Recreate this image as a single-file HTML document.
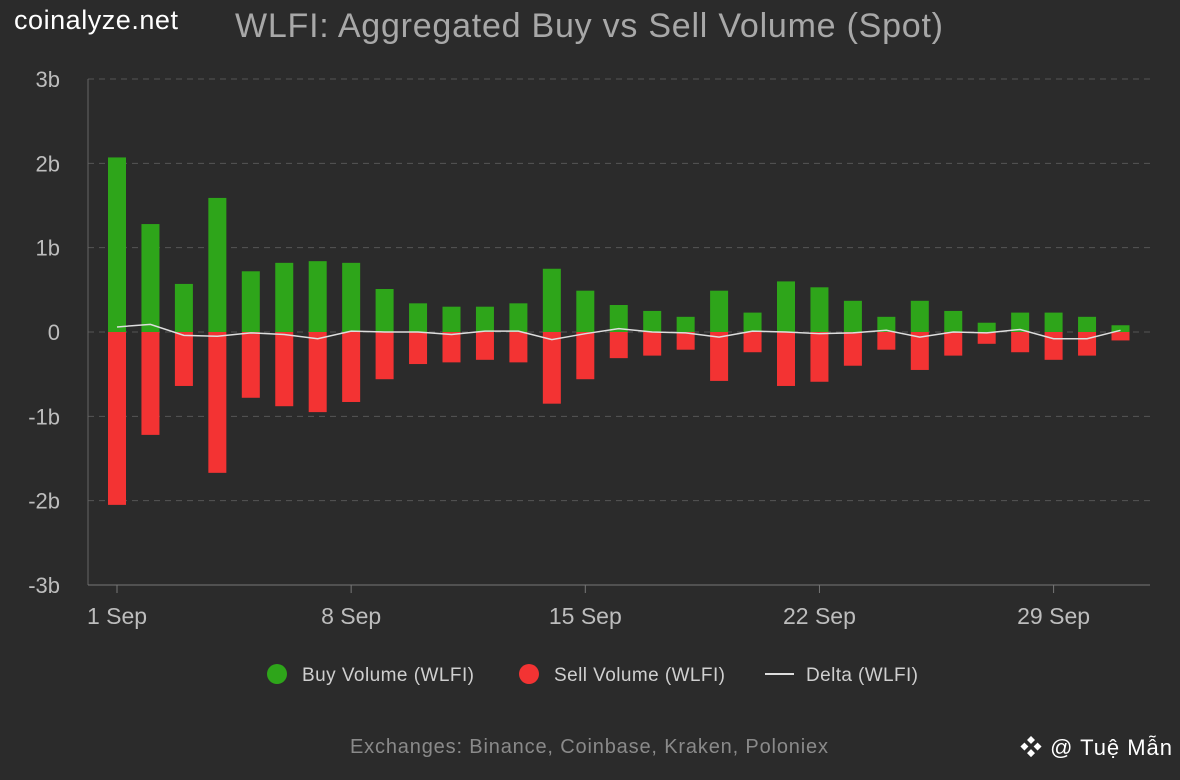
<!DOCTYPE html>
<html><head><meta charset="utf-8">
<style>
html,body{margin:0;padding:0;background:#2b2b2b;}
body{width:1180px;height:775px;overflow:hidden;font-family:"Liberation Sans","Noto Sans CJK SC",sans-serif;}
</style></head>
<body>
<svg width="1180" height="775" xmlns="http://www.w3.org/2000/svg">
<rect width="1180" height="775" fill="#2b2b2b"/>
<text x="14" y="29" font-size="27" fill="#ffffff" textLength="164">coinalyze.net</text>
<text x="589" y="37" font-size="34" fill="#a8a8a8" text-anchor="middle" textLength="708">WLFI: Aggregated Buy vs Sell Volume (Spot)</text>
<g id="grid"></g>
<g id="yticks"></g>
<g id="xticks"></g>
<g id="bars"></g>
<g id="line"></g>
<g>
<g><circle cx="277" cy="674" r="10" fill="#2ea51a"/><text x="302" y="681" font-size="19" fill="#cfcfcf" textLength="172">Buy Volume (WLFI)</text></g>
<g><circle cx="529" cy="674" r="10" fill="#f33333"/><text x="554" y="681" font-size="19" fill="#cfcfcf" textLength="171">Sell Volume (WLFI)</text></g>
<g><line x1="765" y1="674" x2="794" y2="674" stroke="#dddddd" stroke-width="2"/><text x="806" y="681" font-size="19" fill="#cfcfcf" textLength="112">Delta (WLFI)</text></g>
</g>
<text x="589" y="753" font-size="20" fill="#8a8a8a" text-anchor="middle" textLength="478">Exchanges: Binance, Coinbase, Kraken, Poloniex</text>
<text x="1020" y="755" font-size="22" fill="#ffffff" textLength="152">❖ @ Tuệ Mẫn</text>
</svg>
<script>
const buyVals=[2.07,1.28,0.57,1.59,0.72,0.82,0.84,0.82,0.51,0.34,0.30,0.30,0.34,0.75,0.49,0.32,0.25,0.18,0.49,0.23,0.60,0.53,0.37,0.18,0.37,0.25,0.11,0.23,0.23,0.18,0.08];
const sellVals=[-2.05,-1.22,-0.64,-1.67,-0.78,-0.88,-0.95,-0.83,-0.56,-0.38,-0.36,-0.33,-0.36,-0.85,-0.56,-0.31,-0.28,-0.21,-0.58,-0.24,-0.64,-0.59,-0.40,-0.21,-0.45,-0.28,-0.14,-0.24,-0.33,-0.28,-0.10];
const deltaVals=[0.06,0.09,-0.04,-0.05,-0.01,-0.03,-0.08,0.01,0,0,-0.03,0.01,0.01,-0.09,-0.02,0.04,0,-0.01,-0.06,0.01,0,-0.02,-0.01,0.02,-0.06,0,-0.01,0.03,-0.08,-0.08,0.02];
const yTickVals=[3,2,1,0,-1,-2,-3];
const yTickLabels=["3b","2b","1b","0","-1b","-2b","-3b"];
const xTickDays=[0,7,14,21,28];
const xTickLabels=["1 Sep","8 Sep","15 Sep","22 Sep","29 Sep"];
const NS="http://www.w3.org/2000/svg";
const y=v=>332-v*84.33;
const x=i=>117+i*33.45;
function mk(t,a,p){const e=document.createElementNS(NS,t);for(const k in a)e.setAttribute(k,a[k]);p.appendChild(e);return e;}
const grid=document.getElementById('grid'),yt=document.getElementById('yticks'),xt=document.getElementById('xticks'),bars=document.getElementById('bars'),lg=document.getElementById('line');
yTickVals.forEach((v,i)=>{
  if(v!==-3){const g=mk('line',{x1:88,x2:1150,y1:y(v),y2:y(v),stroke:'#555',"stroke-dasharray":'6 5'},grid);
  
  }
  const t=mk('text',{x:60,y:y(v)+8,"font-size":22,fill:'#bdbdbd',"text-anchor":'end'},yt);t.textContent=yTickLabels[i];
  
  
});
mk('line',{x1:88,x2:88,y1:79,y2:585,stroke:'#666'},grid);
mk('line',{x1:88,x2:1150,y1:585,y2:585,stroke:'#777'},grid);
xTickDays.forEach((d,i)=>{
  mk('line',{x1:x(d),x2:x(d),y1:585,y2:593,stroke:'#777'},xt);
  const t=mk('text',{x:x(d),y:624,"font-size":23,fill:'#bdbdbd',"text-anchor":'middle'},xt);t.textContent=xTickLabels[i];
  
  
});
const bw=18;
buyVals.forEach((v,i)=>{
  const r=mk('rect',{x:x(i)-bw/2,y:y(v),width:bw,height:y(0)-y(v),fill:'#2ea51a'},bars);
  
  
});
sellVals.forEach((v,i)=>{
  const r=mk('rect',{x:x(i)-bw/2,y:y(0),width:bw,height:y(v)-y(0),fill:'#f33333'},bars);
  
  
});
const pts=deltaVals.map((v,i)=>x(i)+','+y(v)).join(' ');
const pl=mk('polyline',{points:pts,fill:'none',stroke:'#dddddd',"stroke-width":1.5},lg);


</script>
</body></html>
